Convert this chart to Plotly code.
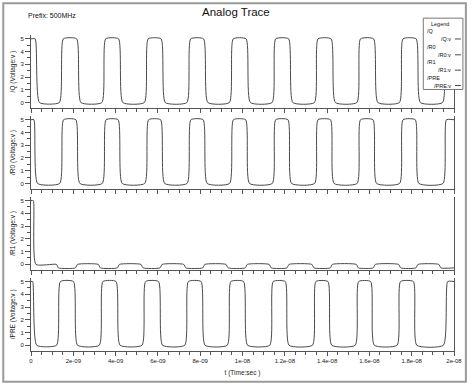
import plotly.graph_objects as go
from plotly.subplots import make_subplots

# ---- data (time in ns, voltage in V) ----
q_t = [0, 0.20, 0.40,
       1.34, 1.53, 2.16, 2.36,
       3.35, 3.53, 4.14, 4.34,
       5.36, 5.54, 6.15, 6.35,
       7.37, 7.55, 8.16, 8.36,
       9.38, 9.56, 10.17, 10.37,
       11.40, 11.57, 12.18, 12.38,
       13.40, 13.57, 14.19, 14.39,
       15.41, 15.58, 16.20, 16.40,
       17.42, 17.59, 18.21, 18.41,
       19.46, 19.63, 20.0]
q_v = [5, 5, 0,
       0, 5, 5, 0,
       0, 5, 5, 0,
       0, 5, 5, 0,
       0, 5, 5, 0,
       0, 5, 5, 0,
       0, 5, 5, 0,
       0, 5, 5, 0,
       0, 5, 5, 0,
       0, 5, 5, 0,
       0, 5, 5]

r0_t = [0, 0.14, 0.31,
        1.36, 1.54, 2.12, 2.31,
        3.37, 3.55, 4.12, 4.31,
        5.38, 5.56, 6.13, 6.32,
        7.38, 7.56, 8.14, 8.33,
        9.39, 9.57, 10.15, 10.33,
        11.41, 11.57, 12.15, 12.32,
        13.41, 13.57, 14.16, 14.33,
        15.42, 15.58, 16.17, 16.34,
        17.43, 17.59, 18.17, 18.34,
        19.48, 19.64, 20.0]
r0_v = [5, 5, 0,
        0, 5, 5, 0,
        0, 5, 5, 0,
        0, 5, 5, 0,
        0, 5, 5, 0,
        0, 5, 5, 0,
        0, 5, 5, 0,
        0, 5, 5, 0,
        0, 5, 5, 0,
        0, 5, 5, 0,
        0, 5, 5]

r1_t = [0, 0.11, 0.23,
        1.20, 1.30, 2.10, 2.20,
        3.18, 3.28, 4.08, 4.18,
        5.20, 5.30, 6.10, 6.20,
        7.22, 7.32, 8.12, 8.22,
        9.22, 9.32, 10.13, 10.23,
        11.26, 11.36, 12.10, 12.20,
        13.28, 13.38, 14.15, 14.25,
        15.38, 15.48, 16.18, 16.28,
        17.38, 17.48, 18.20, 18.30,
        19.28, 19.38, 20.0]
r1_v = [5, 5, 0,
        0, -0.28, -0.28, 0,
        0, -0.28, -0.28, 0,
        0, -0.28, -0.28, 0,
        0, -0.28, -0.28, 0,
        0, -0.28, -0.28, 0,
        0, -0.28, -0.28, 0,
        0, -0.28, -0.28, 0,
        0, -0.28, -0.28, 0,
        0, -0.28, -0.28, 0,
        0, -0.28, -0.28]

pre_t = [0, 0.08, 0.27,
         1.21, 1.39, 2.01, 2.20,
         3.23, 3.40, 4.02, 4.21,
         5.25, 5.42, 6.03, 6.22,
         7.27, 7.44, 8.04, 8.23,
         9.28, 9.45, 10.05, 10.24,
         11.29, 11.45, 12.02, 12.20,
         13.31, 13.47, 14.04, 14.22,
         15.33, 15.49, 16.06, 16.23,
         17.31, 17.47, 18.08, 18.24,
         19.50, 19.70, 20.0]
pre_v = [5, 5, 0,
         0, 5, 5, 0,
         0, 5, 5, 0,
         0, 5, 5, 0,
         0, 5, 5, 0,
         0, 5, 5, 0,
         0, 5, 5, 0,
         0, 5, 5, 0,
         0, 5, 5, 0,
         0, 5, 5, 0,
         0, 5, 5]

signal_names = ["/Q", "/R0", "/R1", "/PRE"]
trace_names = ["/Q:v", "/R0:v", "/R1:v", "/PRE:v"]
y_titles = ["/Q (Voltage:v )", "/R0 (Voltage:v )", "/R1 (Voltage:v )", "/PRE (Voltage:v )"]
y_ticks = [0, 1, 2, 3, 4, 5]
x_tickvals_ns = [0, 2, 4, 6, 8, 10, 12, 14, 16, 18, 20]
x_ticktext = ["0", "2e-09", "4e-09", "6e-09", "8e-09", "1e-08",
              "1.2e-08", "1.4e-08", "1.6e-08", "1.8e-08", "2e-08"]

series = [(q_t, q_v), (r0_t, r0_v), (r1_t, r1_v), (pre_t, pre_v)]

FONT = "Liberation Sans, Arial, Helvetica, sans-serif"
LINE = "#4a4a4a"
AX = "#555555"

fig = make_subplots(rows=4, cols=1, shared_xaxes=True, vertical_spacing=0.024)

for i, (t, v) in enumerate(series):
    fig.add_trace(go.Scatter(x=[x * 1e-9 for x in t], y=v, mode="lines",
                             name=trace_names[i], showlegend=False,
                             line=dict(color=LINE, width=1, shape="spline", smoothing=0.5)),
                  row=i + 1, col=1)
    fig.update_yaxes(row=i + 1, col=1,
                     range=[-0.45, 5.3], tickvals=y_ticks,
                     showgrid=False, zeroline=False,
                     showline=True, linecolor=AX, linewidth=1, mirror=True,
                     ticks="outside", ticklen=5, tickwidth=1, tickcolor=AX,
                     minor=dict(dtick=0.5, ticks="outside", ticklen=3, tickcolor=AX),
                     tickfont=dict(size=6, color="#222", family=FONT),
                     title=dict(text=y_titles[i], font=dict(size=6.5, color="#222", family=FONT), standoff=4))
    fig.update_xaxes(row=i + 1, col=1,
                     range=[0, 2e-8], showgrid=False, zeroline=False,
                     showline=True, linecolor=AX, linewidth=1, mirror=False,
                     ticks="outside", ticklen=4, tickwidth=1, tickcolor=AX,
                     tickvals=[x * 1e-9 for x in x_tickvals_ns], ticktext=x_ticktext,
                     minor=dict(dtick=0.5e-9, tick0=0, ticks="outside", ticklen=3, tickcolor=AX),
                     tickfont=dict(size=6, color="#222", family=FONT),
                     showticklabels=(i == 3))

fig.update_xaxes(row=4, col=1, title=dict(text="t (Time:sec )", standoff=7,
                                          font=dict(size=6.5, color="#222", family=FONT)))

# plot area: x 31..458 px, y 35..354 px
PX_W, PX_H, L, T = 427.0, 319.0, 31.0, 35.0
def px(x):
    return (x - L) / PX_W
def py(y):
    return (T + PX_H - y) / PX_H

shapes = [
    # outer frame
    dict(type="rect", xref="paper", yref="paper", x0=px(3), x1=px(470), y0=py(3), y1=py(385),
         line=dict(color="#9a9a9a", width=2), fillcolor="rgba(0,0,0,0)", layer="above"),
    # legend box
    dict(type="rect", xref="paper", yref="paper", x0=px(427), x1=px(467), y0=py(18), y1=py(90),
         line=dict(color="#777777", width=1), fillcolor="white", layer="above"),
]
annotations = [
    dict(text="Analog Trace", xref="paper", yref="paper", x=px(237.5), y=py(12),
         showarrow=False, xanchor="center", yanchor="middle",
         font=dict(size=11.5, color="#111", family=FONT)),
    dict(text="Prefix: 500MHz", xref="paper", yref="paper", x=px(26), y=py(15),
         showarrow=False, xanchor="left", yanchor="middle",
         font=dict(size=7, color="#111", family=FONT)),
    dict(text="Legend", xref="paper", yref="paper", x=px(444), y=py(24),
         showarrow=False, xanchor="center", yanchor="middle",
         font=dict(size=5.5, color="#111", family=FONT)),
]
row_y = [31, 39, 47, 55, 62.5, 70.5, 78, 86]
for i in range(4):
    annotations.append(dict(text=signal_names[i], xref="paper", yref="paper", x=px(428.5), y=py(row_y[2 * i]),
                            showarrow=False, xanchor="left", yanchor="middle",
                            font=dict(size=5.5, color="#111", family=FONT)))
    annotations.append(dict(text=trace_names[i], xref="paper", yref="paper", x=px(457), y=py(row_y[2 * i + 1]),
                            showarrow=False, xanchor="right", yanchor="middle",
                            font=dict(size=5.5, color="#111", family=FONT)))
    shapes.append(dict(type="line", xref="paper", yref="paper", x0=px(459), x1=px(465),
                       y0=py(row_y[2 * i + 1]), y1=py(row_y[2 * i + 1]),
                       line=dict(color=LINE, width=1), layer="above"))

fig.update_layout(
    width=474, height=388,
    margin=dict(l=31, r=16, t=35, b=34),
    paper_bgcolor="white", plot_bgcolor="white",
    showlegend=False,
    font=dict(family=FONT, color="#222"),
    shapes=shapes, annotations=annotations,
)

fig.write_html("out.html")
